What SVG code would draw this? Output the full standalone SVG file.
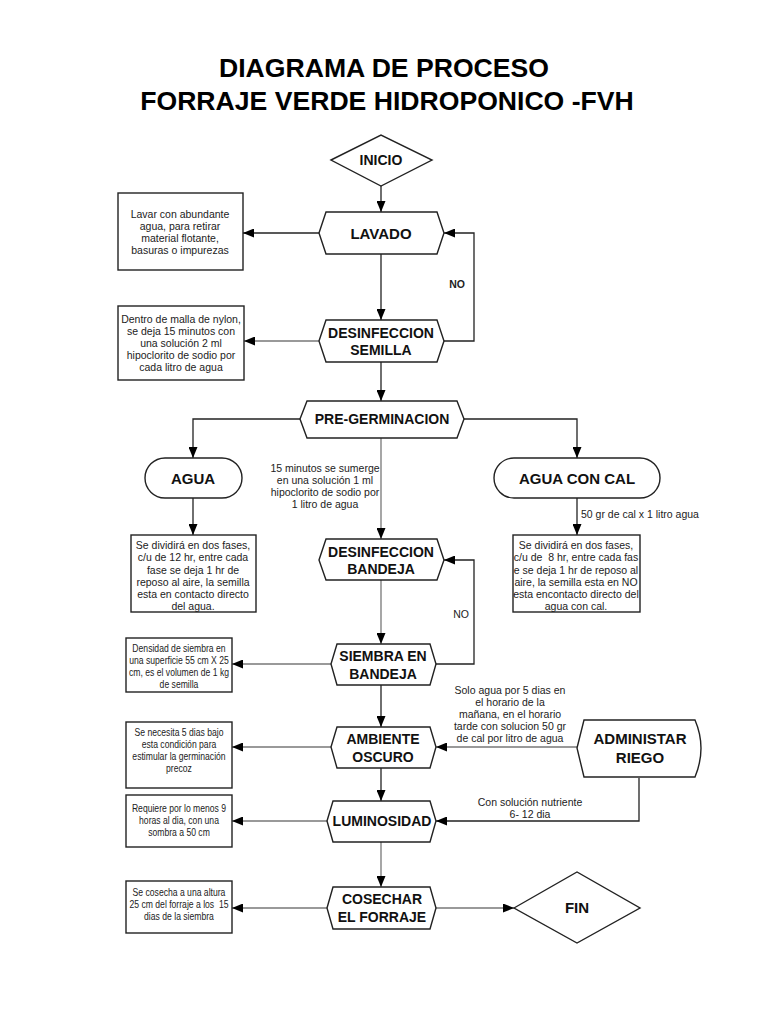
<svg xmlns="http://www.w3.org/2000/svg" width="768" height="1024" viewBox="0 0 768 1024">
<defs>
<marker id="ah" markerWidth="11" markerHeight="9" refX="11" refY="4.5" orient="auto" markerUnits="userSpaceOnUse"><path d="M0,0 L11,4.5 L0,9 z" fill="#000"/></marker>
<style>
.title{font-family:"Liberation Sans",Arial,sans-serif;font-weight:bold;font-size:26.6px;fill:#000;text-anchor:middle}
.nd{fill:#fff;stroke:#222;stroke-width:1.4}
.lb{font-family:"Liberation Sans",Arial,sans-serif;font-weight:bold;font-size:14px;fill:#111;text-anchor:middle}
.big{font-size:15px}
.sm{font-family:"Liberation Sans",Arial,sans-serif;font-size:10.5px;fill:#222;text-anchor:middle}
.st{text-anchor:start}
.cn{fill:none;stroke:#222;stroke-width:1.3}
.gr{stroke:#777}
</style>
</defs>
<rect width="768" height="1024" fill="#fff"/>
<text class="title" x="384" y="77">DIAGRAMA DE PROCESO</text>
<text class="title" x="387" y="110">FORRAJE VERDE HIDROPONICO -FVH</text>

<g id="connectors">
<path class="cn" d="M381,186 V212" marker-end="url(#ah)"/>
<path class="cn" d="M319,233 H243" marker-end="url(#ah)"/>
<path class="cn" d="M444,341 H474 V233 H444" marker-end="url(#ah)"/>
<path class="cn" d="M381,254 V320" marker-end="url(#ah)"/>
<path class="cn gr" d="M319,341 H244" marker-end="url(#ah)"/>
<path class="cn" d="M381,362 V401" marker-end="url(#ah)"/>
<path class="cn" d="M300,419 H193 V458" marker-end="url(#ah)"/>
<path class="cn" d="M464,419 H577 V458" marker-end="url(#ah)"/>
<path class="cn" d="M193,498 V535" marker-end="url(#ah)"/>
<path class="cn" d="M577,498 V535" marker-end="url(#ah)"/>
<path class="cn gr" d="M381,438 V539" marker-end="url(#ah)"/>
<path class="cn" d="M436,664 H474 V560 H444" marker-end="url(#ah)"/>
<path class="cn gr" d="M381,580 V644" marker-end="url(#ah)"/>
<path class="cn gr" d="M331,664 H232" marker-end="url(#ah)"/>
<path class="cn" d="M381,685 V727" marker-end="url(#ah)"/>
<path class="cn gr" d="M331,747 H232" marker-end="url(#ah)"/>
<path class="cn gr" d="M577,747 H436" marker-end="url(#ah)"/>
<path class="cn" d="M639,778 V821 H436" marker-end="url(#ah)"/>
<path class="cn" d="M381,768 V801" marker-end="url(#ah)"/>
<path class="cn gr" d="M327,821 H232" marker-end="url(#ah)"/>
<path class="cn gr" d="M381,842 V887" marker-end="url(#ah)"/>
<path class="cn gr" d="M327,908 H232" marker-end="url(#ah)"/>
<path class="cn gr" d="M436,908 H514" marker-end="url(#ah)"/>
<text class="sm" x="457" y="288" font-weight="bold" font-size="10">NO</text>
<text class="sm" x="461" y="618">NO</text>
<text class="sm st" x="581" y="518">50 gr de cal x 1 litro agua</text>
<text class="sm" x="325" y="472">15 minutos se sumerge</text>
<text class="sm" x="325" y="484">en una solución 1 ml</text>
<text class="sm" x="325" y="496">hipoclorito de sodio por</text>
<text class="sm" x="325" y="508">1 litro de agua</text>
<text class="sm" x="510" y="694">Solo agua por 5 dias en</text>
<text class="sm" x="510" y="706">el horario de la</text>
<text class="sm" x="510" y="718">mañana, en el horario</text>
<text class="sm" x="510" y="730">tarde con solucion 50 gr</text>
<text class="sm" x="510" y="742">de cal por litro de agua</text>
<text class="sm" x="530" y="806">Con solución nutriente</text>
<text class="sm" x="530" y="818">6- 12 dia</text>
</g>

<g id="inicio">
<path class="nd" d="M331,160 L381,135 L432,160 L381,186 z"/>
<text class="lb" x="381" y="165" font-size="11">INICIO</text>
</g>
<g id="lavado">
<path class="nd" d="M319,233 L326,212 L437,212 L444,233 L437,254 L326,254 z"/>
<text class="lb big" x="381" y="239">LAVADO</text>
</g>
<g id="lavado-nota">
<rect class="nd" x="118" y="193" width="125" height="77"/>
<text class="sm" x="180" y="218">Lavar con abundante</text>
<text class="sm" x="180" y="230">agua, para retirar</text>
<text class="sm" x="180" y="242">material flotante,</text>
<text class="sm" x="180" y="254">basuras o impurezas</text>
</g>
<g id="desinf-semilla">
<path class="nd" d="M319,341 L326,320 L437,320 L444,341 L437,362 L326,362 z"/>
<text class="lb" x="381" y="338" font-size="13">DESINFECCION</text>
<text class="lb" x="381" y="355" font-size="13">SEMILLA</text>
</g>
<g id="desinf-semilla-nota">
<rect class="nd" x="118" y="306" width="126" height="74"/>
<text class="sm" x="181" y="323">Dentro de malla de nylon,</text>
<text class="sm" x="181" y="335">se deja 15 minutos con</text>
<text class="sm" x="181" y="347">una solución 2 ml</text>
<text class="sm" x="181" y="359">hipoclorito de sodio por</text>
<text class="sm" x="181" y="371">cada litro de agua</text>
</g>
<g id="pregerminacion">
<path class="nd" d="M300,419 L307,401 L457,401 L464,419 L457,438 L307,438 z"/>
<text class="lb" x="382" y="424">PRE-GERMINACION</text>
</g>
<g id="agua">
<rect class="nd" x="145" y="458" width="97" height="40" rx="20"/>
<text class="lb big" x="193" y="484">AGUA</text>
</g>
<g id="agua-cal">
<rect class="nd" x="494" y="458" width="166" height="40" rx="20"/>
<text class="lb big" x="577" y="484">AGUA CON CAL</text>
</g>
<g id="agua-nota">
<rect class="nd" x="131" y="535" width="125" height="77"/>
<text class="sm" x="193" y="549">Se dividirá en dos fases,</text>
<text class="sm" x="193" y="561">c/u de 12 hr, entre cada</text>
<text class="sm" x="193" y="574">fase se deja 1 hr de</text>
<text class="sm" x="193" y="586">reposo al aire, la semilla</text>
<text class="sm" x="193" y="598">esta en contacto directo</text>
<text class="sm" x="193" y="610">del agua.</text>
</g>
<g id="agua-cal-nota">
<rect class="nd" x="513" y="535" width="127" height="77"/>
<text class="sm" x="576" y="549">Se dividirá en dos fases,</text>
<text class="sm" x="576" y="561">c/u de &#160;8 hr, entre cada fas</text>
<text class="sm" x="576" y="574">e se deja 1 hr de reposo al</text>
<text class="sm" x="576" y="586">aire, la semilla esta en NO</text>
<text class="sm" x="576" y="598">esta encontacto directo del</text>
<text class="sm" x="576" y="610">agua con cal.</text>
</g>
<g id="desinf-bandeja">
<path class="nd" d="M319,560 L326,539 L437,539 L444,560 L437,580 L326,580 z"/>
<text class="lb" x="381" y="557" font-size="13">DESINFECCION</text>
<text class="lb" x="381" y="574" font-size="13">BANDEJA</text>
</g>
<g id="siembra">
<path class="nd" d="M331,664 L337,644 L430,644 L436,664 L430,685 L337,685 z"/>
<text class="lb" x="383" y="661">SIEMBRA EN</text>
<text class="lb" x="383" y="679">BANDEJA</text>
</g>
<g id="siembra-nota">
<rect class="nd" x="126" y="638" width="106" height="54"/>
<g transform="translate(179 0) scale(0.82 1) translate(-179 0)">
<text class="sm" x="179" y="652">Densidad de siembra en</text>
<text class="sm" x="179" y="664">una superficie 55 cm X 25</text>
<text class="sm" x="179" y="676">cm, es el volumen de 1 kg</text>
<text class="sm" x="179" y="688">de semilla</text>
</g>
</g>
<g id="ambiente">
<path class="nd" d="M331,747 L337,727 L430,727 L436,747 L430,768 L337,768 z"/>
<text class="lb" x="383" y="744">AMBIENTE</text>
<text class="lb" x="383" y="762">OSCURO</text>
</g>
<g id="ambiente-nota">
<rect class="nd" x="126" y="722" width="106" height="66"/>
<g transform="translate(179 0) scale(0.82 1) translate(-179 0)">
<text class="sm" x="179" y="736">Se necesita 5 dias bajo</text>
<text class="sm" x="179" y="748">esta condición para</text>
<text class="sm" x="179" y="760">estimular la germinación</text>
<text class="sm" x="179" y="772">precoz</text>
</g>
</g>
<g id="riego">
<path class="nd" d="M577,748 L584,720 L695,720 Q707,748 695,777 L584,777 z"/>
<text class="lb big" x="640" y="744">ADMINISTAR</text>
<text class="lb big" x="640" y="763">RIEGO</text>
</g>
<g id="luminosidad">
<path class="nd" d="M327,821 L333,801 L430,801 L436,821 L430,842 L333,842 z"/>
<text class="lb" x="382" y="826">LUMINOSIDAD</text>
</g>
<g id="luminosidad-nota">
<rect class="nd" x="126" y="795" width="106" height="52"/>
<g transform="translate(179 0) scale(0.82 1) translate(-179 0)">
<text class="sm" x="179" y="812">Requiere por lo menos 9</text>
<text class="sm" x="179" y="824">horas al dia, con una</text>
<text class="sm" x="179" y="836">sombra a 50 cm</text>
</g>
</g>
<g id="cosechar">
<path class="nd" d="M327,908 L333,887 L430,887 L436,908 L430,929 L333,929 z"/>
<text class="lb" x="382" y="904">COSECHAR</text>
<text class="lb" x="382" y="922">EL FORRAJE</text>
</g>
<g id="cosechar-nota">
<rect class="nd" x="126" y="881" width="106" height="52"/>
<g transform="translate(179 0) scale(0.82 1) translate(-179 0)">
<text class="sm" x="179" y="896">Se cosecha a una altura</text>
<text class="sm" x="179" y="908">25 cm del forraje a los &#160;15</text>
<text class="sm" x="179" y="920">dias de la siembra</text>
</g>
</g>
<g id="fin">
<path class="nd" d="M514,908 L577,872 L640,908 L577,943 z"/>
<text class="lb big" x="577" y="913">FIN</text>
</g>
</svg>
